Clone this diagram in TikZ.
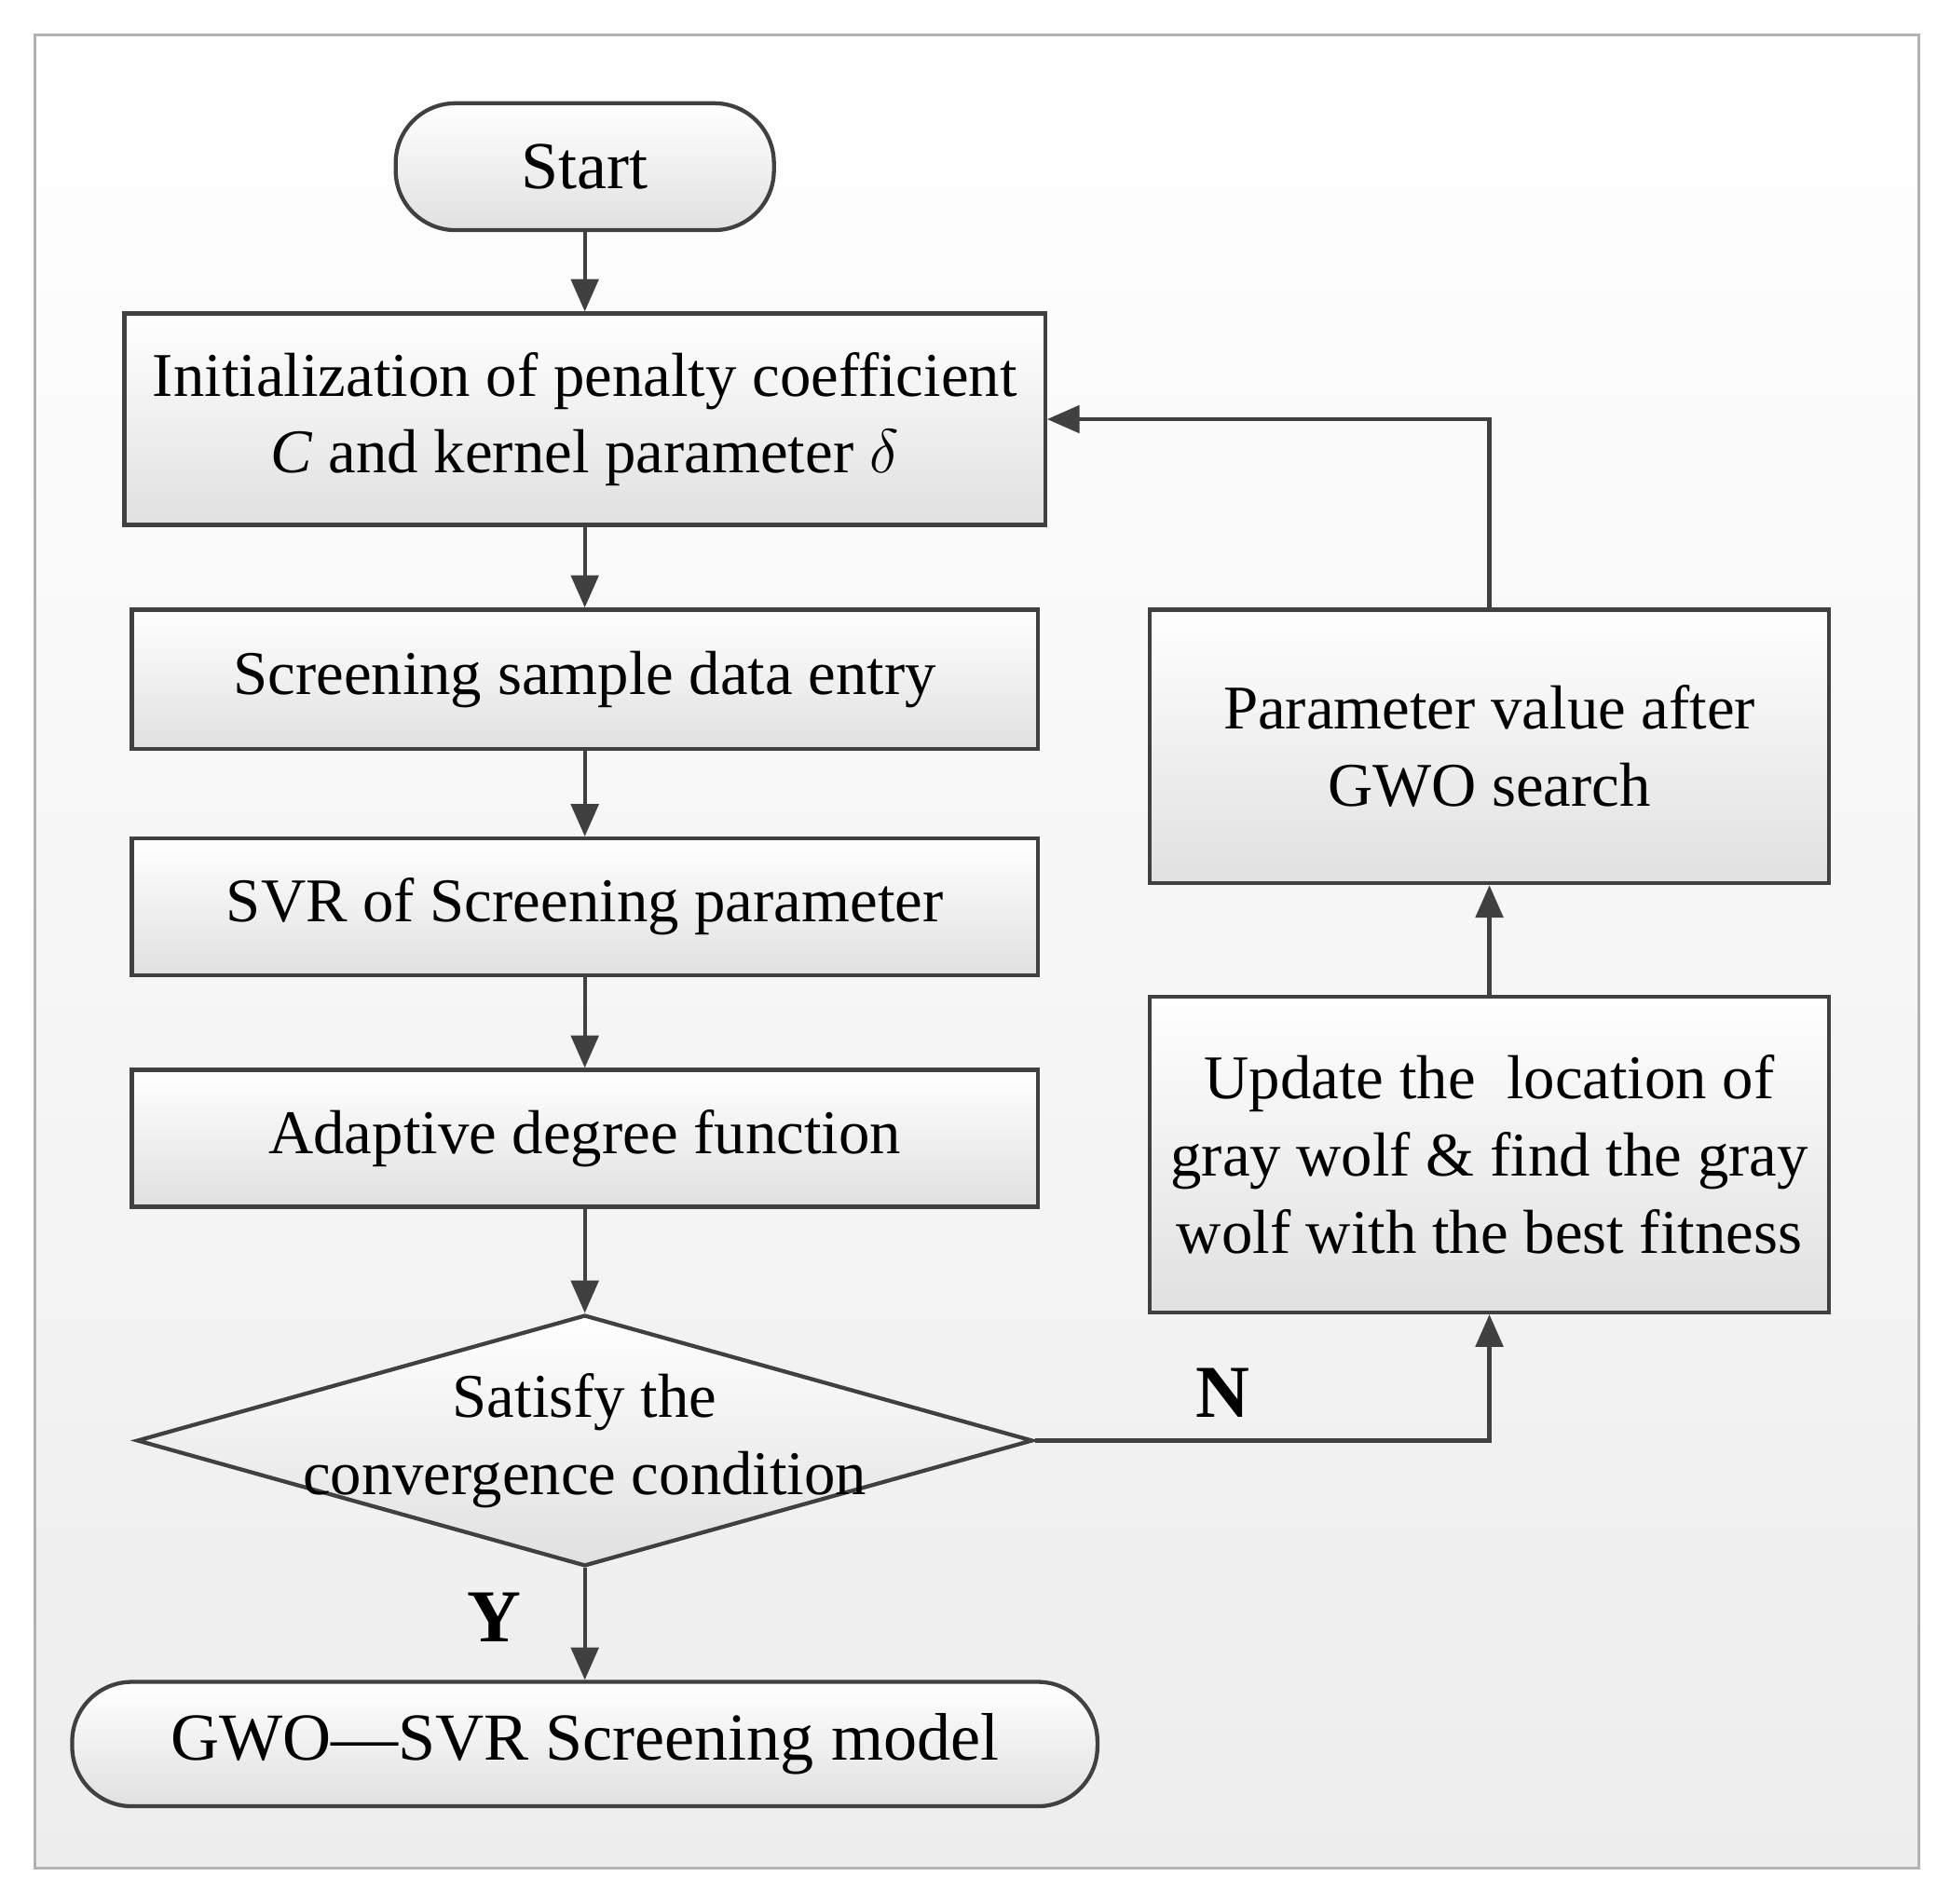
\documentclass[tikz,border=0pt]{standalone}
\usepackage{fontspec}
\setmainfont{Liberation Serif}
\usetikzlibrary{shapes.geometric,arrows.meta}
\begin{document}
\begin{tikzpicture}[x=0.5pt,y=-0.5pt,
  box/.style={draw=black!75,line width=1.6pt,top color=white,bottom color=black!12,inner sep=0pt,align=center,font=\fontsize{25}{31}\selectfont},
  arr/.style={draw=black!75,line width=1.6pt,-{Triangle[length=13pt,width=11pt]}}]
\useasboundingbox (0,0) rectangle (1568,1530);
\fill[white] (0,0) rectangle (1568,1530);
\shade[top color=white,bottom color=black!7,draw=black!30,line width=1.2pt] (28,28) rectangle (1542,1502);
\node[box,rounded corners=24pt,minimum width=152pt,minimum height=51pt,font=\fontsize{27}{30}\selectfont] (start) at (470,134) {Start};
\node[box,minimum width=370pt,minimum height=85pt] (init) at (470,337) {Initialization of penalty coefficient\\ \textit{C} and kernel parameter $\delta$};
\node[box,minimum width=364pt,minimum height=56pt] (scr) at (470,546) {Screening sample data entry};
\node[box,minimum width=364pt,minimum height=55pt] (svr) at (470,729) {SVR of Screening parameter};
\node[box,minimum width=364pt,minimum height=55pt] (ada) at (470,915) {Adaptive degree function};
\node[box,diamond,aspect=3.55,minimum width=360pt,minimum height=101pt] (dec) at (470,1158) {};
\node[font=\fontsize{25}{31}\selectfont,align=center] (dect) at (470,1158) {Satisfy the\\convergence condition};
\node[box,rounded corners=24pt,minimum width=412pt,minimum height=50pt,font=\fontsize{27}{30}\selectfont] (end) at (470,1402) {GWO---SVR Screening model};
\node[box,minimum width=273pt,minimum height=110pt] (par) at (1197,600) {Parameter value after\\GWO search};
\node[box,minimum width=273pt,minimum height=127pt] (upd) at (1197,928) {Update the \ location of\\gray wolf \& find the gray\\wolf with the best fitness};
\node[font=\bfseries\fontsize{30}{30}\selectfont] (n) at (983,1120) {N};
\node[font=\bfseries\fontsize{30}{30}\selectfont] (y) at (397,1300) {Y};
\draw[arr] (start) -- (init);
\draw[arr] (init) -- (scr);
\draw[arr] (scr) -- (svr);
\draw[arr] (svr) -- (ada);
\draw[arr] (ada) -- (dec.north);
\draw[arr] (dec.south) -- (end);
\draw[arr] (dec.east) -| (upd.south);
\draw[arr] (upd) -- (par);
\draw[arr] (par.north) |- (init.east);
\end{tikzpicture}
\end{document}
